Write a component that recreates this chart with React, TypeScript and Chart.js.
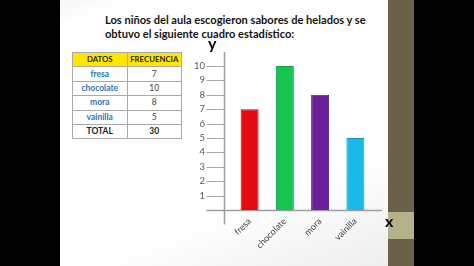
import React, { useEffect, useRef } from 'react';
import { Chart, registerables } from 'chart.js';

Chart.register(...registerables);

const TITLE_LINES = [
  'Los niños del aula escogieron sabores de helados y se',
  'obtuvo el siguiente cuadro estadístico:',
];
const TABLE_HEADERS = ['DATOS', 'FRECUENCIA'];
const FLAVORS = ['fresa', 'chocolate', 'mora', 'vainilla'];
const FREQUENCIES = [7, 10, 8, 5];
const TOTAL_LABEL = 'TOTAL';
const TOTAL_VALUE = 30;
const BAR_COLORS = ['#e30a12', '#14c552', '#6b1f9a', '#1bb9e8'];
const BAR_BORDERS = ['#b8070e', '#0fa043', '#561780', '#1597bf'];
const Y_MAX = 10;
const AXIS_Y_LABEL = 'y';
const AXIS_X_LABEL = 'x';

const FONT = "'Lato', sans-serif";

const handAxes = {
  id: 'handAxes',
  beforeDatasetsDraw(chart: any) {
    const { ctx, chartArea, scales } = chart;
    const ys = scales.y;
    const ax = Math.round(chartArea.left - 8) + 0.5;
    const y0 = Math.round(ys.getPixelForValue(0)) + 0.5;
    const line = (x1: number, y1: number, x2: number, y2: number) => {
      ctx.beginPath();
      ctx.moveTo(x1, y1);
      ctx.lineTo(x2, y2);
      ctx.stroke();
    };
    ctx.save();
    ctx.strokeStyle = '#a8a8a8';
    ctx.lineWidth = 1;
    ys.ticks.forEach((t: any) => {
      if (t.value <= 0) return;
      const py = Math.round(ys.getPixelForValue(t.value)) + 0.5;
      line(ax - 18, py, ax, py);
    });
    ctx.strokeStyle = '#9e9e9e';
    ctx.lineWidth = 1.5;
    line(ax, chartArea.top - 14, ax, y0 + 14);
    line(ax - 18, y0, chartArea.right + 9, y0);
    ctx.restore();
  },
};

export default function App() {
  const ref = useRef<HTMLCanvasElement>(null);

  useEffect(() => {
    if (!ref.current) return;
    const chart = new Chart(ref.current, {
      type: 'bar',
      data: {
        labels: FLAVORS,
        datasets: [
          {
            data: FREQUENCIES,
            backgroundColor: BAR_COLORS,
            borderColor: BAR_BORDERS,
            borderWidth: 1,
            categoryPercentage: 1,
            barPercentage: 0.51,
          },
        ],
      },
      options: {
        animation: false,
        responsive: false,
        maintainAspectRatio: false,
        layout: { padding: { left: 192, right: 101, top: 66, bottom: 16 } },
        plugins: { legend: { display: false }, tooltip: { enabled: false } },
        scales: {
          x: {
            grid: { display: false, drawTicks: false },
            border: { display: false },
            afterFit: (s: any) => {
              s.height = 40;
            },
            ticks: {
              minRotation: 45,
              maxRotation: 45,
              padding: 6,
              color: '#404040',
              font: { family: FONT, size: 9 },
            },
          },
          y: {
            min: 0,
            max: Y_MAX,
            grid: { display: false, drawTicks: false },
            border: { display: false },
            afterFit: (s: any) => {
              s.width = 40;
            },
            ticks: {
              stepSize: 1,
              padding: 27,
              color: '#595959',
              font: { family: FONT, size: 9.5 },
              callback: (v: any) => (v === 0 ? '' : String(v)),
            },
          },
        },
      },
      plugins: [handAxes],
    });
    return () => chart.destroy();
  }, []);

  const cell: React.CSSProperties = {
    border: '1px solid #a9a9a9',
    height: 13.4,
    padding: 0,
    textAlign: 'center',
    verticalAlign: 'middle',
    lineHeight: '13px',
    whiteSpace: 'nowrap',
    overflow: 'hidden',
  };

  return (
    <div
      style={{
        position: 'fixed',
        left: 0,
        top: 0,
        width: 474,
        height: 266,
        background: '#000',
        overflow: 'hidden',
      }}
    >
      <div
        style={{
          position: 'absolute',
          left: 60,
          top: 0,
          width: 328,
          height: 266,
          background:
            'linear-gradient(160deg, #f6f6f6 0%, #ffffff 8%, #ffffff 70%, #eeeeee 100%)',
        }}
      />
      <div style={{ position: 'absolute', left: 388, top: 0, width: 26, height: 266, background: '#6b604a' }} />
      <div style={{ position: 'absolute', left: 388, top: 212, width: 26, height: 27, background: '#b3b289' }} />
      <div
        style={{
          position: 'absolute',
          left: 105,
          top: 13,
          fontFamily: FONT,
          fontWeight: 'bold',
          fontSize: 12,
          lineHeight: '14px',
          color: '#141414',
          whiteSpace: 'nowrap',
          transform: 'scaleX(0.924)',
          transformOrigin: 'left top',
        }}
      >
        {TITLE_LINES.map((l, i) => (
          <div key={i}>{l}</div>
        ))}
      </div>
      <table
        style={{
          position: 'absolute',
          left: 72,
          top: 52,
          width: 110,
          borderCollapse: 'collapse',
          fontFamily: FONT,
          fontSize: 8.5,
          tableLayout: 'fixed',
          background: '#fff',
        }}
      >
        <tbody>
          <tr style={{ background: '#ffe600' }}>
            {TABLE_HEADERS.map((h) => (
              <td key={h} style={{ ...cell, fontWeight: 'bold', color: '#262626', fontSize: 7.8 }}>
                {h}
              </td>
            ))}
          </tr>
          {FLAVORS.map((f, i) => (
            <tr key={f}>
              <td style={{ ...cell, fontWeight: 'bold', color: '#2e75b6' }}>{f}</td>
              <td style={{ ...cell, color: '#404040' }}>{FREQUENCIES[i]}</td>
            </tr>
          ))}
          <tr>
            <td style={{ ...cell, fontWeight: 'bold', color: '#1a1a1a' }}>{TOTAL_LABEL}</td>
            <td style={{ ...cell, fontWeight: 'bold', color: '#1a1a1a' }}>{TOTAL_VALUE}</td>
          </tr>
        </tbody>
      </table>
      <canvas
        ref={ref}
        width={474}
        height={266}
        style={{ position: 'absolute', left: 0, top: 0, width: 474, height: 266 }}
      />
      <div
        style={{
          position: 'absolute',
          left: 208,
          top: 33,
          fontFamily: FONT,
          fontWeight: 'bold',
          fontSize: 16,
          color: '#000',
        }}
      >
        {AXIS_Y_LABEL}
      </div>
      <div
        style={{
          position: 'absolute',
          left: 385,
          top: 211,
          fontFamily: FONT,
          fontWeight: 'bold',
          fontSize: 16,
          color: '#000',
        }}
      >
        {AXIS_X_LABEL}
      </div>
    </div>
  );
}
